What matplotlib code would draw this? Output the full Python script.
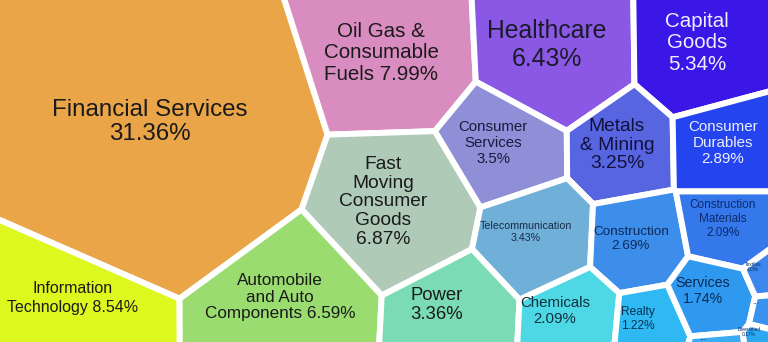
import numpy as np
import matplotlib
matplotlib.use("Agg")
import matplotlib.pyplot as plt
from matplotlib.patches import Polygon

# ---------------- data ----------------
sectors = ["Financial Services", "Information Technology", "Oil Gas & Consumable Fuels",
           "Healthcare", "Capital Goods", "Fast Moving Consumer Goods",
           "Automobile and Auto Components", "Consumer Services", "Metals & Mining",
           "Consumer Durables", "Telecommunication", "Construction",
           "Construction Materials", "Power", "Chemicals", "Realty", "Services",
           "Textiles", "Other A", "Diversified", "Other B"]
values = [31.36, 8.54, 7.99, 6.43, 5.34, 6.87, 6.59, 3.50, 3.25, 2.89, 3.43, 2.69,
          2.09, 3.36, 2.09, 1.22, 1.74, 0.30, 0.20, 0.17, 0.20]
labels = ["Financial Services\n31.36%", "Information\nTechnology 8.54%",
          "Oil Gas &\nConsumable\nFuels 7.99%", "Healthcare\n6.43%", "Capital\nGoods\n5.34%",
          "Fast\nMoving\nConsumer\nGoods\n6.87%", "Automobile\nand Auto\nComponents 6.59%",
          "Consumer\nServices\n3.5%", "Metals\n& Mining\n3.25%", "Consumer\nDurables\n2.89%",
          "Telecommunication\n3.43%", "Construction\n2.69%", "Construction\nMaterials\n2.09%",
          "Power\n3.36%", "Chemicals\n2.09%", "Realty\n1.22%", "Services\n1.74%",
          "Textiles\n0.3%", "...", "Diversified\n0.17%", "..."]
colors = ["#EAA548", "#DDF81E", "#D98CC0", "#8A58E4", "#3A17E6", "#AFCAB7", "#9BDC70",
          "#8E8FD6", "#5865E0", "#2444F0", "#70B0D8", "#3C8EEA", "#3478EC", "#7ADBB5",
          "#4ED8E6", "#2EB9F3", "#2F99F0", "#3D86EE", "#3A92F0", "#2CA8F2", "#3AABF5"]
text_colors = ["#1a1a1a", "#1a1a1a", "#1a1a1a", "#1a1a2a", "#EEEEFF", "#1a1a1a", "#1a1a1a",
               "#1a1a3a", "#10103a", "#EEEEFF", "#1a2a45", "#0d2a5a", "#0d2a6a", "#1a1a1a",
               "#10303a", "#0a3050", "#0a2a50", "#0a2a60", "#0a2a60", "#0a2a60", "#0a2a60"]
font_sizes = [17.4, 11.5, 14.8, 17.8, 14.8, 13.8, 12.3, 10.8, 13.8, 10.9, 7.7, 9.7, 8.5,
              13.3, 10.8, 8.6, 10.2, 3.5, 6, 3.5, 6]
line_spacings = [1.15, 1.27, 1.15, 1.17, 1.15, 1.14, 1.15, 1.15, 1.15, 1.2, 1.3, 1.15, 1.2,
                 1.15, 1.15, 1.15, 1.2, 1.2, 1.0, 1.2, 1.0]

# label anchor positions (pixel space, y down)
label_x = [150, 73, 381, 547, 697, 383, 280, 493, 617, 723, 526, 631, 723, 437, 555,
           638, 703, 753, 756, 749, 703]
label_y = [122, 298, 53, 45, 43, 202, 297, 143, 145, 143, 232, 239, 219, 305, 311,
           319, 291, 267, 302, 332, 338]
# layout: seed positions of the Voronoi-treemap cells
seed_x = [150, 73, 375, 537, 690, 380, 278, 484, 604, 716, 514, 621, 716, 433, 552,
          636, 699, 753, 756, 749, 703]
seed_y = [122, 298, 50, 42, 40, 202, 297, 140, 139, 137, 229, 234, 216, 305, 311,
          319, 291, 267, 304, 332, 338]

W, H = 768, 342
DOMAIN = [(-38, -22), (290, -12), (771, -12), (771, 345), (367, 345), (181, 356),
          (-38, 378)]


def clip(poly, a, b, c, lab):
    """Clip labelled polygon by half-plane a*x+b*y<=c."""
    out = []
    n = len(poly)
    for k in range(n):
        P, L = poly[k]
        Q, _ = poly[(k + 1) % n]
        fp = a * P[0] + b * P[1] - c
        fq = a * Q[0] + b * Q[1] - c
        if fp <= 0:
            out.append((P, L))
            if fq > 0:
                t = fp / (fp - fq)
                out.append(((P[0] + t * (Q[0] - P[0]), P[1] + t * (Q[1] - P[1])), lab))
        elif fq <= 0:
            t = fp / (fp - fq)
            out.append(((P[0] + t * (Q[0] - P[0]), P[1] + t * (Q[1] - P[1])), L))
    return out


def power_cells(S, w):
    n = len(S)
    cells = []
    for i in range(n):
        poly = [(p, -1) for p in DOMAIN]
        for j in range(n):
            if i == j:
                continue
            a = 2 * (S[j, 0] - S[i, 0])
            b = 2 * (S[j, 1] - S[i, 1])
            c = S[j] @ S[j] - S[i] @ S[i] - w[j] + w[i]
            poly = clip(poly, a, b, c, j)
            if not poly:
                break
        cells.append(poly)
    return cells


def area_of(pts):
    if len(pts) < 3:
        return 0.0
    p = np.asarray(pts, float)
    x, y = p[:, 0], p[:, 1]
    return 0.5 * abs(np.dot(x, np.roll(y, -1)) - np.dot(y, np.roll(x, -1)))


S = np.column_stack([seed_x, seed_y]).astype(float)
vals = np.array(values, float)
total_area = area_of(DOMAIN)
target = vals / vals.sum() * total_area
w = np.zeros(len(S))

for it in range(400):
    cells = power_cells(S, w)
    areas = np.array([area_of([v for v, _ in c]) for c in cells])
    new_w = w.copy()
    for i, poly in enumerate(cells):
        if areas[i] < 1.0:
            d2 = ((S - S[i]) ** 2).sum(1)
            cand = [w[j] - d2[j] for j in range(len(S)) if j != i]
            new_w[i] = max(cand) + 20.0
            continue
        diag = 0.0
        n = len(poly)
        for k in range(n):
            P, L = poly[k]
            Q, _ = poly[(k + 1) % n]
            if L >= 0:
                ln = np.hypot(Q[0] - P[0], Q[1] - P[1])
                diag += ln / (2 * np.hypot(*(S[L] - S[i])))
        if diag > 0:
            new_w[i] = w[i] + 0.5 * (target[i] - areas[i]) / diag
    w = new_w

cells = power_cells(S, w)

fig = plt.figure(figsize=(7.68, 3.42), dpi=100)
ax = fig.add_axes([0, 0, 1, 1])
ax.set_xlim(0, W)
ax.set_ylim(H, 0)
ax.axis("off")
fig.patch.set_facecolor("white")

for i, poly in enumerate(cells):
    if len(poly) < 3:
        continue
    pts = np.array([v for v, _ in poly])
    ax.add_patch(Polygon(pts, closed=True, facecolor=colors[i], edgecolor="white",
                         linewidth=4.3, joinstyle="round"))
    ax.text(label_x[i], label_y[i], labels[i], ha="center", va="center",
            fontsize=font_sizes[i], color=text_colors[i], family="Liberation Sans",
            linespacing=line_spacings[i])

fig.savefig("out.png", dpi=100)
